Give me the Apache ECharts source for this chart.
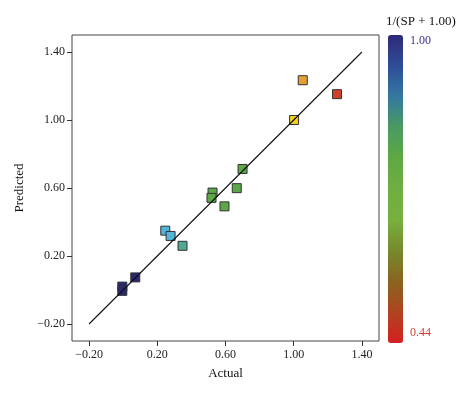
<!DOCTYPE html>
<html>
<head>
<meta charset="utf-8">
<script src="https://cdn.jsdelivr.net/npm/echarts@6/dist/echarts.min.js"></script>
<style>
html,body{margin:0;padding:0;background:#fff;}
#chart{width:474px;height:396px;}
</style>
</head>
<body>
<div id="chart"></div>
<script>
// Actual vs Predicted values, colored by 1/(SP + 1.00)
const actual    = [1.053, 1.254, 1.002, 0.700, 0.666, 0.524, 0.518, 0.594, 0.247, 0.278, 0.348, 0.071, -0.005, -0.005];
const predicted = [1.234, 1.152, 1.000, 0.712, 0.599, 0.573, 0.542, 0.492, 0.349, 0.318, 0.260, 0.074, 0.020, -0.005];
const response  = [0.52, 0.45, 0.57, 0.72, 0.72, 0.72, 0.72, 0.72, 0.88, 0.88, 0.82, 1.00, 1.00, 1.00];
const tickValues = [-0.2, 0.2, 0.6, 1.0, 1.4];
const diagonal = [-0.2, 1.4];
const colorRange = [0.44, 1.00];

const serif = 'Liberation Serif, Times New Roman, serif';
const fmt = v => (v < -1e-9 ? '\u2212' : '') + Math.abs(v).toFixed(2);

const chart = echarts.init(document.getElementById('chart'), null, {renderer: 'canvas'});

const axisCommon = {
  type: 'value',
  min: -0.3,
  max: 1.5,
  axisLine: {show: false, onZero: false},
  splitLine: {show: false},
  axisTick: {show: true, inside: false, length: 5, customValues: tickValues, lineStyle: {color: '#333', width: 1}},
  axisLabel: {customValues: tickValues, formatter: fmt, color: '#222', fontFamily: serif, fontSize: 12},
  nameLocation: 'middle',
  nameTextStyle: {color: '#111', fontFamily: serif, fontSize: 13}
};

const points = actual.map((a, i) => [a, predicted[i], response[i]]);

chart.setOption({
  animation: false,
  backgroundColor: '#fff',
  grid: {left: 72, top: 35, width: 307, height: 306, show: true, borderColor: '#444', borderWidth: 1, backgroundColor: 'transparent'},
  xAxis: Object.assign({}, axisCommon, {name: 'Actual', nameGap: 26, axisLabel: Object.assign({}, axisCommon.axisLabel, {margin: 8})}),
  yAxis: Object.assign({}, axisCommon, {name: 'Predicted', nameGap: 46, axisLabel: Object.assign({}, axisCommon.axisLabel, {margin: 7})}),
  visualMap: [
    {
      type: 'continuous',
      show: true,
      seriesIndex: 2,
      min: colorRange[0],
      max: colorRange[1],
      calculable: false,
      left: 388,
      top: 35,
      padding: 0,
      itemWidth: 15,
      itemHeight: 308,
      showLabel: false,
      inRange: {color: ['#d42020', '#b04420', '#8a6420', '#768a2c', '#78b03e', '#70ae40', '#5ea844', '#4a9a60', '#3478a0', '#2f4c98', '#2d2a78']}
    },
    {
      type: 'piecewise',
      show: false,
      seriesIndex: 1,
      dimension: 2,
      pieces: [
        {min: 0.44, max: 0.48, color: '#d04028'},
        {min: 0.48, max: 0.545, color: '#e8a030'},
        {min: 0.545, max: 0.62, color: '#f0d020'},
        {min: 0.62, max: 0.78, color: '#5ca848'},
        {min: 0.78, max: 0.85, color: '#52a894'},
        {min: 0.85, max: 0.95, color: '#52b4d8'},
        {min: 0.95, max: 1.01, color: '#2a2870'}
      ]
    }
  ],
  series: [
    {
      type: 'line',
      data: [[diagonal[0], diagonal[0]], [diagonal[1], diagonal[1]]],
      symbol: 'none',
      lineStyle: {color: '#111', width: 1.1},
      z: 5,
      silent: true
    },
    {
      type: 'scatter',
      data: points,
      symbol: 'rect',
      symbolSize: 9,
      itemStyle: {borderColor: '#333', borderWidth: 1, opacity: 1},
      z: 3
    },
    {
      type: 'scatter',
      data: []
    }
  ],
  graphic: [
    {type: 'text', left: 386, top: 15, style: {text: '1/(SP + 1.00)', fill: '#111', font: '13px ' + serif}},
    {type: 'text', left: 410, top: 35, style: {text: '1.00', fill: '#3a3090', font: '12px ' + serif}},
    {type: 'text', left: 410, top: 327, style: {text: '0.44', fill: '#d04030', font: '12px ' + serif}}
  ]
});
</script>
</body>
</html>
